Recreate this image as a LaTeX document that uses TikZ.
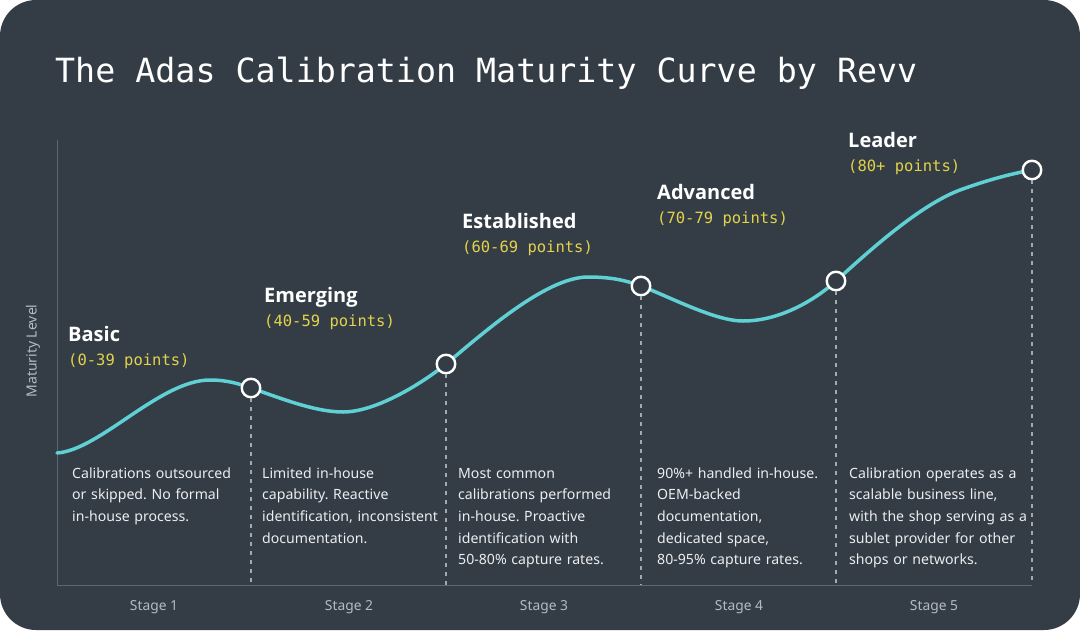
\documentclass[tikz,border=0pt]{standalone}
\usepackage{fontspec}
\setmainfont{Noto Sans}
\newfontfamily\namefont{Open Sans}
\newfontfamily\monofont{DejaVu Sans Mono}
\usetikzlibrary{calc}
\frenchspacing

\definecolor{bgdark}{HTML}{343D46}
\definecolor{curvecyan}{HTML}{5FD0D3}
\definecolor{ptyellow}{HTML}{E2D34A}
\definecolor{axisgray}{HTML}{5C6670}
\definecolor{dashgray}{HTML}{A3A9AF}
\definecolor{labelgray}{HTML}{B4BAC0}
\definecolor{textlight}{HTML}{ECEEF0}

\begin{document}
\begin{tikzpicture}[x=1pt, y=-1pt,
		stagename/.style={anchor=base west, inner sep=0pt, text=white, font=\namefont\bfseries\fontsize{20}{21}\selectfont},
		stagepts/.style={anchor=base west, inner sep=0pt, text=ptyellow, font=\monofont\fontsize{15.5}{16}\selectfont},
		stagedesc/.style={anchor=base west, inner sep=0pt, text=textlight, text width=200pt, align=left, font=\fontsize{14.1}{21.7}\selectfont},
		stagetick/.style={anchor=base, inner sep=0pt, text=labelgray, font=\fontsize{13.8}{14}\selectfont},
		marker/.style={circle, draw=white, line width=2.4pt, fill=bgdark, minimum size=18.5pt, inner sep=0pt},
		guide/.style={dashgray, line width=1.1pt, dash pattern=on 4pt off 5pt}]
	\def\ax{57};
	\def\ay{585};
	\def\dy{24.5};

	\useasboundingbox (0,0) rectangle (1080,630);
	\fill [white] (0,0) rectangle (1080,630);
	\fill [bgdark, rounded corners=36pt] (0,0) rectangle (1080,630);

	% title
	\node [anchor=base west, inner sep=0pt, text=white, font=\monofont\fontsize{33.3}{36}\selectfont] (title) at (55,82) {The Adas Calibration Maturity Curve by Revv};

	% axes
	\begin{scope}[axisgray, line width=1pt]
		\draw (\ax,140) -- (\ax,\ay) -- (1032,\ay);
	\end{scope}
	\node [rotate=90, inner sep=0pt, text=labelgray, font=\fontsize{14}{14}\selectfont] (ylabel) at (33,351) {Maturity Level};

	% curve
	\draw [curvecyan, line width=3.5pt, line cap=round]
		(\ax,453) .. controls (100,450) and (160,380) .. (210,380)
		.. controls (228,380) and (240,384.2) .. (251,388)
		.. controls (280,398) and (315,412) .. (343,412)
		.. controls (375,412) and (420,385) .. (446,364)
		.. controls (480,336) and (545,277) .. (588,277)
		.. controls (610,277) and (625,280) .. (641,286)
		.. controls (670,297) and (715,321) .. (743,321)
		.. controls (780,321) and (815,300) .. (836,281)
		.. controls (870,250) and (920,205) .. (960,190)
		.. controls (990,179) and (1015,173) .. (1032,170);

	% stage markers and guides
	\coordinate (b1) at (251,\ay);
	\coordinate (b2) at (446,\ay);
	\coordinate (b3) at (641,\ay);
	\coordinate (b4) at (836,\ay);
	\coordinate (b5) at (1032,\ay);
	\node [marker] (m1) at (251,388) {};
	\node [marker] (m2) at (446,364) {};
	\node [marker] (m3) at (641,286) {};
	\node [marker] (m4) at (836,281) {};
	\node [marker] (m5) at (1032,170) {};
	\foreach \i in {1,...,5}
		\draw [guide] (m\i.south) -- (b\i);

	% stage names
	\node [stagename] (n1) at (68,341) {Basic};
	\node [stagepts] (p1) at (68,341+\dy) {(0-39 points)};
	\node [stagename] (n2) at (264,302) {Emerging};
	\node [stagepts] (p2) at (264,302+\dy) {(40-59 points)};
	\node [stagename] (n3) at (462,228) {Established};
	\node [stagepts] (p3) at (462,228+\dy) {(60-69 points)};
	\node [stagename] (n4) at (657,199) {Advanced};
	\node [stagepts] (p4) at (657,199+\dy) {(70-79 points)};
	\node [stagename] (n5) at (848,147) {Leader};
	\node [stagepts] (p5) at (848,147+\dy) {(80+ points)};

	% descriptions
	\node [stagedesc] (d1) at (72,478) {Calibrations outsourced\\or skipped. No formal\\in-house process.};
	\node [stagedesc] (d2) at (262,478) {Limited in-house\\capability. Reactive\\identification, inconsistent\\documentation.};
	\node [stagedesc] (d3) at (458,478) {Most common\\calibrations performed\\in-house. Proactive\\identification with\\50-80\% capture rates.};
	\node [stagedesc] (d4) at (657,478) {90\%+ handled in-house.\\OEM-backed\\documentation,\\dedicated space,\\80-95\% capture rates.};
	\node [stagedesc] (d5) at (849,478) {Calibration operates as a\\scalable business line,\\with the shop serving as a\\sublet provider for other\\shops or networks.};

	% stage ticks
	\node [stagetick] (s1) at (154,610) {Stage 1};
	\node [stagetick] (s2) at (349,610) {Stage 2};
	\node [stagetick] (s3) at (544,610) {Stage 3};
	\node [stagetick] (s4) at (739,610) {Stage 4};
	\node [stagetick] (s5) at (934,610) {Stage 5};
\end{tikzpicture}
\end{document}
